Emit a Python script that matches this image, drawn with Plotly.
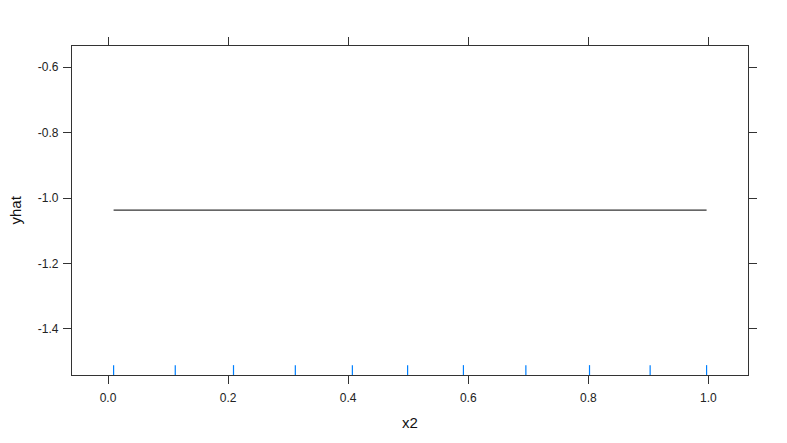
import plotly.graph_objects as go

# partial dependence of yhat on x2 (flat line) and rug of x2 deciles
x2_grid = [0.0093, 0.997]
yhat = [-1.037, -1.037]
x2_rug = [0.0093, 0.112, 0.209, 0.312, 0.407, 0.499, 0.592, 0.696, 0.802, 0.903, 0.997]

x_ticks = [0.0, 0.2, 0.4, 0.6, 0.8, 1.0]
y_ticks = [-1.4, -1.2, -1.0, -0.8, -0.6]

FONT = "Liberation Sans, Arial"

fig = go.Figure()
fig.add_trace(go.Scatter(x=x2_grid, y=yhat, mode="lines",
                         line=dict(color="#333333", width=1.2),
                         showlegend=False, hoverinfo="skip"))

# rug ticks along the bottom of the panel
for xv in x2_rug:
    fig.add_shape(type="line", xref="x", yref="paper", x0=xv, x1=xv, y0=0, y1=0.03,
                  line=dict(color="rgb(0,128,255)", width=1.2))

axis_common = dict(showgrid=False, zeroline=False, showline=True, linecolor="#333333",
                   linewidth=1.2, mirror="ticks", ticks="outside", ticklen=8,
                   tickcolor="#333333", tickwidth=1.2, automargin=False,
                   tickfont=dict(family=FONT, size=12, color="#222222"))

fig.update_xaxes(range=[-0.06, 1.066], tickvals=x_ticks, ticklabelstandoff=3,
                 ticktext=[f"{v:.1f}" for v in x_ticks], **axis_common)
fig.update_yaxes(range=[-1.541, -0.535], tickvals=y_ticks, ticklabelstandoff=2,
                 ticktext=[f"{v:.1f}" for v in y_ticks], **axis_common)

# axis titles placed as annotations (lattice-style positions)
fig.add_annotation(text="x2", xref="paper", yref="paper", x=0.5, y=0, yshift=-47,
                   xanchor="center", yanchor="middle", showarrow=False,
                   font=dict(family=FONT, size=15, color="#111111"))
fig.add_annotation(text="yhat", xref="paper", yref="paper", x=0, y=0.5, xshift=-57,
                   xanchor="center", yanchor="middle", textangle=-90, showarrow=False,
                   font=dict(family=FONT, size=15, color="#111111"))

# the page body adds an 8px offset, so the figure is sized/margined to compensate
fig.update_layout(width=779, height=435, plot_bgcolor="white", paper_bgcolor="white",
                  margin=dict(l=64, r=39, t=38, b=68), showlegend=False)

fig.write_html("out.html")
